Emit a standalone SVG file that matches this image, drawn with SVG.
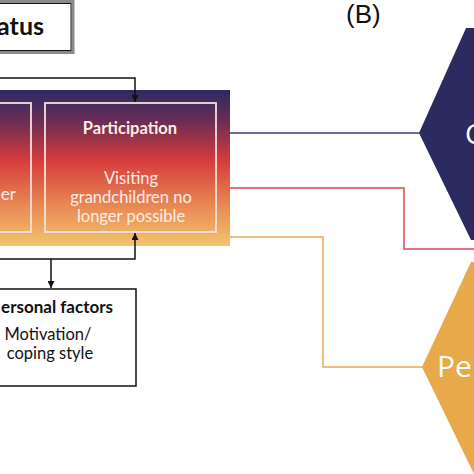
<svg xmlns="http://www.w3.org/2000/svg" width="474" height="474" viewBox="0 0 474 474">
<style>
.wt{font-family:Lato,"Open Sans",sans-serif;fill:#fbeee6;text-anchor:middle}
.bk{font-family:Lato,"Open Sans",sans-serif;fill:#111;text-anchor:middle}
.conn{fill:none;stroke-width:1.5}
.inner{fill:none;stroke:#f3e2dc;stroke-width:1.8}
</style>
<defs>
<linearGradient id="grad" x1="0" y1="0" x2="0" y2="1">
<stop offset="0" stop-color="#2c2a62"/>
<stop offset="0.2" stop-color="#6a2d55"/>
<stop offset="0.45" stop-color="#d63b3c"/>
<stop offset="0.75" stop-color="#e98a55"/>
<stop offset="1" stop-color="#f2c56c"/>
</linearGradient>
<marker id="ah" viewBox="0 0 10 10" refX="10" refY="5" markerWidth="7" markerHeight="7" markerUnits="userSpaceOnUse" orient="auto">
<path d="M0,0 L10,5 L0,10 z" fill="#111"/>
</marker>
</defs>
<rect width="474" height="474" fill="#fff"/>

<g id="title">
<rect x="-10" y="1.5" width="83" height="51" fill="#fff" stroke="#8a8a8a" stroke-width="3"/>
<rect x="-10" y="3.5" width="81" height="47" fill="none" stroke="#111" stroke-width="1"/>
<text x="44" y="35" font-family="Lato,'Open Sans',sans-serif" font-weight="bold" font-size="25" fill="#111" text-anchor="end">atus</text>
</g>

<g id="label-b">
<text x="346" y="23" font-family="'Liberation Sans',Arial,sans-serif" font-size="26" fill="#111">(B)</text>
</g>

<g id="gradient-panel">
<rect x="-5" y="90" width="235" height="156" fill="url(#grad)"/>
</g>

<g id="left-box">
<rect x="-10" y="103" width="41" height="129" class="inner"/>
<text x="16" y="200" font-family="Lato,'Open Sans',sans-serif" font-size="17" fill="#fbeee6" text-anchor="end">er</text>
</g>

<g id="participation">
<rect x="45" y="103" width="171" height="129" class="inner"/>
<text x="130" y="134" class="wt" font-size="16.5" font-weight="bold">Participation</text>
<text x="131" y="184" class="wt" font-size="16.5">Visiting</text>
<text x="131" y="203" class="wt" font-size="16.5">grandchildren no</text>
<text x="131" y="222" class="wt" font-size="16.5">longer possible</text>
</g>

<g id="personal-factors">
<rect x="-10" y="289" width="146" height="97" fill="#fff" stroke="#111" stroke-width="1.5"/>
<text x="113" y="313" font-family="Lato,'Open Sans',sans-serif" font-size="17" font-weight="bold" fill="#111" text-anchor="end">ersonal factors</text>
<text x="48" y="340" class="bk" font-size="16.5">Motivation/</text>
<text x="50" y="359" class="bk" font-size="16.5">coping style</text>
</g>

<g id="hex-navy">
<polygon points="419,133 466,28 480,28 480,240 471,240" fill="#2b2a61"/>
<text x="465" y="144" font-family="'Open Sans',sans-serif" font-size="28" fill="#fff">C</text>
</g>

<g id="hex-orange">
<polygon points="422,367 471,262 480,262 480,474 474,474" fill="#e8a94a"/>
<text x="437" y="377" font-family="'Open Sans',sans-serif" font-size="30" fill="#fff">Pe</text>
</g>

<g id="connectors">
<polyline class="conn" stroke="#111" points="-5,78 135,78 135,102" marker-end="url(#ah)"/>
<polyline class="conn" stroke="#111" points="-5,259 135,259 135,233" marker-end="url(#ah)"/>
<line class="conn" stroke="#111" x1="51" y1="259" x2="51" y2="288" marker-end="url(#ah)"/>
<line class="conn" stroke="#3b3a72" x1="230" y1="133" x2="420" y2="133"/>
<polyline class="conn" stroke="#d94a50" points="230,188 404,188 404,249 476,249"/>
<polyline class="conn" stroke="#eca852" points="230,237 323,237 323,367 423,367"/>
</g>
</svg>
